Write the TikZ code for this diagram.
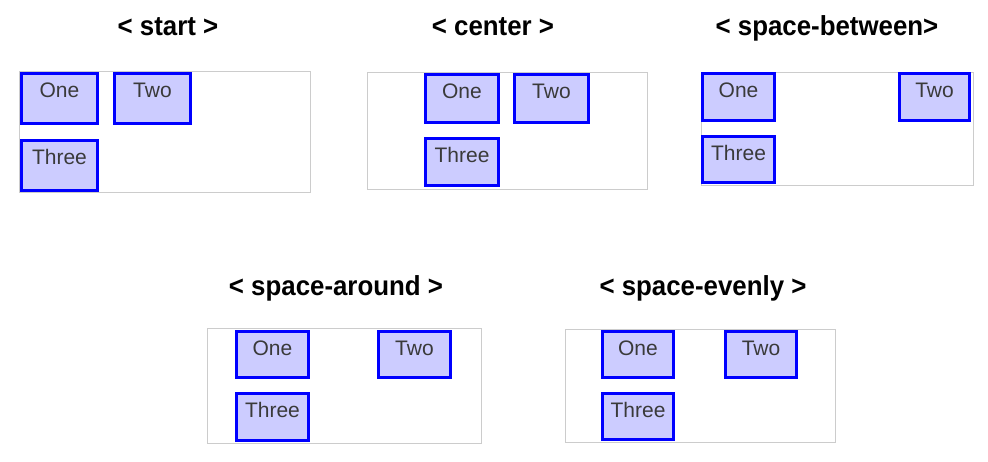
\documentclass[tikz,border=0pt]{standalone}
\usepackage{fontspec}
\usepackage{graphicx}
\setmainfont{Liberation Sans}
\definecolor{boxfill}{HTML}{CCCCFF}
\definecolor{boxline}{HTML}{0000FF}
\definecolor{contline}{HTML}{CCCCCC}
\definecolor{itemtxt}{HTML}{3A3A3A}
\tikzset{
  titletext/.style={font=\fontsize{27.5}{32}\selectfont\bfseries, anchor=base, inner sep=0},
  container/.style={draw=contline, line width=1pt, fill=white},
  itemtext/.style={font=\fontsize{21}{25}\selectfont, text=itemtxt, anchor=base, inner sep=0},
}
\newcommand\condensed[1]{\scalebox{0.94}[1]{#1}}
% #1 name, #2 x1, #3 y1, #4 x2, #5 y2, #6 text
\newcommand\flexitem[6]{%
  \node[draw=boxline, fill=boxfill, line width=3pt, inner sep=0, outer sep=0,
        minimum width={(#4-#2-3)*1pt}, minimum height={(#5-#3-3)*1pt}]
        (#1) at ({(#2+#4)/2},{(#3+#5)/2}) {};
  \node[itemtext] (#1t) at ([yshift=-23.5pt]#1.north) {#6};
}
\begin{document}
\begin{tikzpicture}[x=1pt,y=-1pt]
\useasboundingbox (0,0) rectangle (988,461);
% titles
\node[titletext] (t1) at (168,35) {\condensed{< start >}};
\node[titletext] (t2) at (493,35) {\condensed{< center >}};
\node[titletext] (t3) at (827,35) {\condensed{< space-between>}};
\node[titletext] (t4) at (336,295) {\condensed{< space-around >}};
\node[titletext] (t5) at (703,295) {\condensed{< space-evenly >}};
% containers
\draw[container] (19,71) rectangle (310,192);
\draw[container] (367,72) rectangle (647,189);
\draw[container] (701,72) rectangle (973,185);
\draw[container] (207,328) rectangle (481,443);
\draw[container] (565,329) rectangle (835,442);
% start
\flexitem{a1}{20}{72}{99}{125}{One}
\flexitem{a2}{113}{72}{192}{125}{Two}
\flexitem{a3}{20}{139}{99}{192}{Three}
% center
\flexitem{b1}{424}{73}{500}{124}{One}
\flexitem{b2}{513}{73}{590}{124}{Two}
\flexitem{b3}{424}{137}{500}{187}{Three}
% space-between
\flexitem{c1}{701}{72}{776}{122}{One}
\flexitem{c2}{898}{72}{971}{122}{Two}
\flexitem{c3}{701}{135}{776}{184}{Three}
% space-around
\flexitem{d1}{235}{330}{310}{379}{One}
\flexitem{d2}{377}{330}{452}{379}{Two}
\flexitem{d3}{235}{392}{310}{442}{Three}
% space-evenly
\flexitem{e1}{601}{330}{675}{379}{One}
\flexitem{e2}{724}{330}{798}{379}{Two}
\flexitem{e3}{601}{392}{675}{441}{Three}
\end{tikzpicture}
\end{document}
